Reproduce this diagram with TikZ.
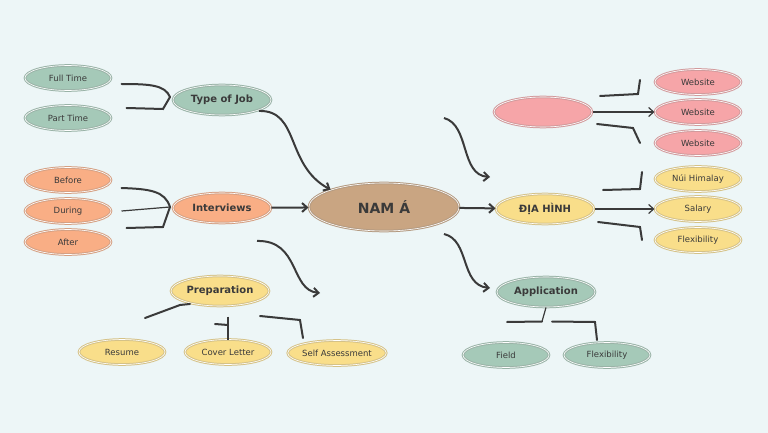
\documentclass[tikz,border=0pt]{standalone}
\usepackage{fontspec}
\setmainfont{DejaVu Sans}
\usetikzlibrary{shapes.geometric,arrows.meta}
\definecolor{bg}{HTML}{EDF6F7}
\definecolor{cgreen}{HTML}{A5C9B8}
\definecolor{corange}{HTML}{F9AE85}
\definecolor{cyellow}{HTML}{F9DE8A}
\definecolor{cpink}{HTML}{F6A5A8}
\definecolor{ctan}{HTML}{C9A582}
\definecolor{ink}{HTML}{3A3A3A}
\begin{document}
\begin{tikzpicture}[x=1pt,y=-1pt,
  blob/.style={ellipse, draw=#1!70!gray, line width=1pt, fill=#1, text=ink,
    double=white, double distance=0.6pt, inner sep=0pt},
  leaf/.style={blob=#1, minimum width=86pt, minimum height=25pt, font=\fontsize{8.5}{10}\selectfont},
  topic/.style={blob=#1, minimum width=98pt, minimum height=30pt, font=\bfseries\fontsize{10}{12}\selectfont},
  main/.style={blob=ctan, minimum width=150pt, minimum height=48pt, font=\bfseries\fontsize{14}{16}\selectfont},
  arr/.style={draw=ink, line width=2pt, -{Straight Barb[length=5pt,width=9pt]}},
  brace/.style={draw=ink, line width=2pt, line cap=round},
  thin/.style={draw=ink, line width=1.2pt}]
\fill[bg] (0,0) rectangle (768,433);
\useasboundingbox (0,0) rectangle (768,433);

\node[main] (c) at (384,207) {NAM Á};

\node[topic=cgreen] (job) at (222,100) {Type of Job};
\node[leaf=cgreen] (ft) at (68,78) {Full Time};
\node[leaf=cgreen] (pt) at (68,118) {Part Time};

\node[topic=corange] (int) at (222,208) {Interviews};
\node[leaf=corange] (bef) at (68,180) {Before};
\node[leaf=corange] (dur) at (68,211) {During};
\node[leaf=corange] (aft) at (68,242) {After};

\node[topic=cyellow] (prep) at (220,291) {Preparation};
\node[leaf=cyellow] (res) at (122,352) {Resume};
\node[leaf=cyellow] (cov) at (228,352) {Cover Letter};
\node[leaf=cyellow, minimum width=94pt] (self) at (337,353) {Self Assessment};

\node[topic=cpink] (pink) at (543,112) {};
\node[leaf=cpink] (w1) at (698,82) {Website};
\node[leaf=cpink] (w2) at (698,112) {Website};
\node[leaf=cpink] (w3) at (698,143) {Website};

\node[topic=cyellow] (dia) at (545,209) {ĐỊA HÌNH};
\node[leaf=cyellow] (nui) at (698,179) {Núi Himalay};
\node[leaf=cyellow] (sal) at (698,209) {Salary};
\node[leaf=cyellow] (flx) at (698,240) {Flexibility};

\node[topic=cgreen] (app) at (546,292) {Application};
\node[leaf=cgreen] (fld) at (506,355) {Field};
\node[leaf=cgreen] (fl2) at (607,355) {Flexibility};

% main branches
\draw[arr] (job.south east) ++(2,0) .. controls (300,110) and (285,165) .. (c.north west);
\draw[arr] (int) -- (c);
\draw[arr] (int.south east) ++(0,22) .. controls (300,240) and (290,290) .. (320,293);
\draw[arr] (444,118) .. controls (470,125) and (460,175) .. (490,177);
\draw[arr] (c) -- (dia);
\draw[arr] (444,234) .. controls (470,240) and (460,285) .. (490,288);

% left braces
\coordinate (jb) at (170,97);
\draw[brace] (ft.east) ++(10,6) .. controls (150,84) and (165,85) .. (jb);
\draw[brace] (pt.east) ++(15,-10) -- (163,109) -- (jb);
\coordinate (ib) at (170,207);
\draw[brace] (bef.east) ++(10,8) .. controls (150,189) and (165,191) .. (ib);
\draw[thin] (dur.east) ++(10,0) -- (ib);
\draw[brace] (aft.east) ++(15,-14) -- (163,227) -- (ib);

% preparation
\coordinate (pb) at (180,305);
\draw[brace] (prep.south west) ++(5,2) -- (pb) -- (145,318);
\draw[thin] (prep.south) ++(8,10) -- (228,340);
\draw[brace] (215,324) -- (228,325);
\draw[brace] (260,316) -- (300,320) -- (303,338);

% right fans
\draw[brace] (600,96) -- (638,94) -- (640,80);
\draw[thin,-{Straight Barb[length=5pt,width=9pt]}] (pink.east) -- (w2.west);
\draw[brace] (597,124) -- (633,128) -- (640,143);
\draw[brace] (603,190) -- (640,189) -- (642,172);
\draw[thin,-{Straight Barb[length=5pt,width=9pt]}] (dia.east) -- (sal.west);
\draw[brace] (598,222) -- (640,227) -- (642,240);

% application
\draw[thin] (app.south) -- ++(-4,14) coordinate (ab);
\draw[brace] (ab) -- (507,322);
\draw[brace] (ab) ++(10,0) -- (595,322) -- (597,340);
\end{tikzpicture}
\end{document}
